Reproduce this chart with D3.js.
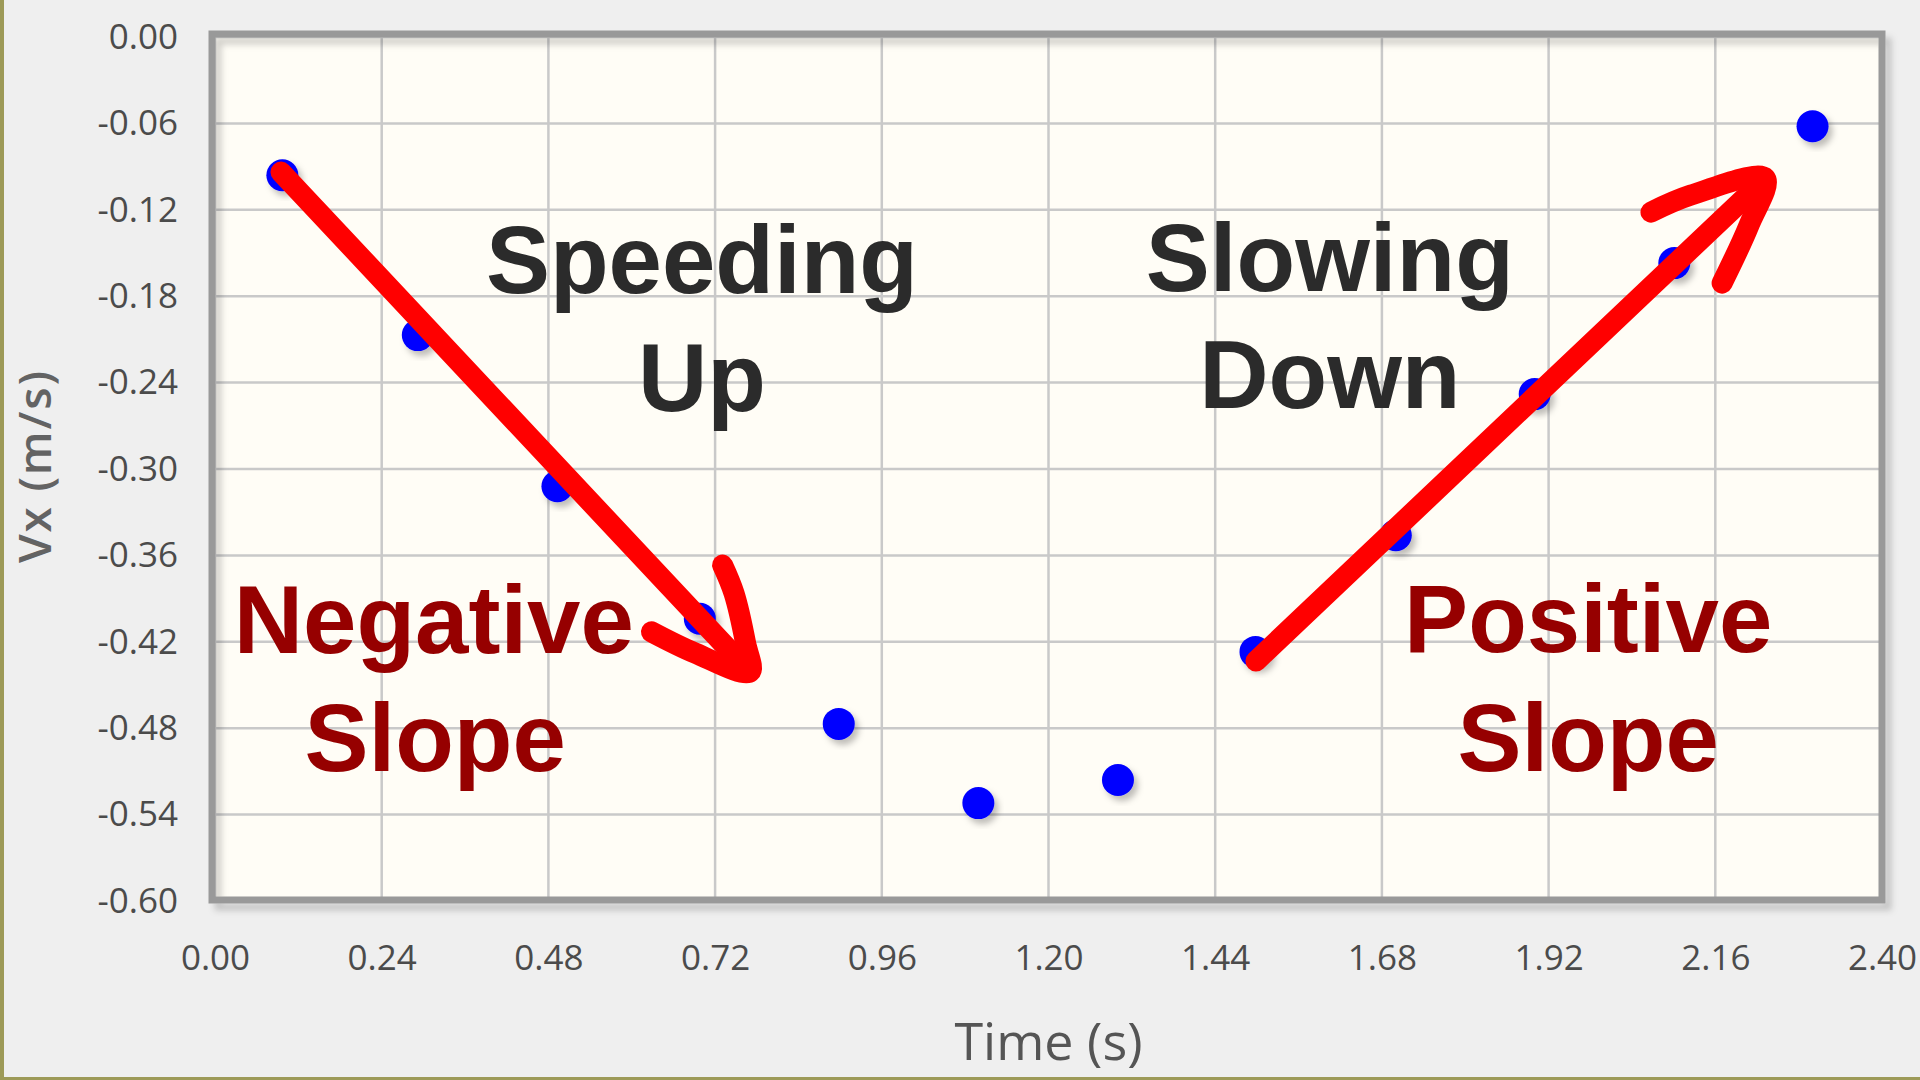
<!DOCTYPE html>
<html>
<head>
<meta charset="utf-8">
<script src="https://cdn.jsdelivr.net/npm/d3@7"></script>
<style>
  html, body { margin: 0; padding: 0; background: #efefef; }
  svg { display: block; }
</style>
</head>
<body>
<svg id="chart" width="1920" height="1080"></svg>
<script>
// velocity vs time, with hand-drawn slope annotations on top
const timeS = [0.097, 0.292, 0.493, 0.698, 0.898, 1.099, 1.300, 1.498, 1.700, 1.900, 2.101, 2.300];
const vxMs  = [-0.096, -0.207, -0.312, -0.404, -0.477, -0.532, -0.516, -0.427, -0.346, -0.248, -0.157, -0.062];

const xTicks = [0, 0.24, 0.48, 0.72, 0.96, 1.20, 1.44, 1.68, 1.92, 2.16, 2.40];
const yTicks = [0, -0.06, -0.12, -0.18, -0.24, -0.30, -0.36, -0.42, -0.48, -0.54, -0.60];

// arrow strokes in data units [t, vx]
const arrowDown = [[0.095, -0.0938], [0.7674, -0.4397]];
const arrowDownHead = [[0.7308, -0.3667], [0.7472, -0.3862], [0.7639, -0.4209], [0.7703, -0.4410],
                       [0.6911, -0.4278], [0.6284, -0.4131]];
const arrowUp = [[1.4987, -0.4334], [2.2172, -0.1049]];
const arrowUpHead = [[2.0674, -0.1216], [2.1250, -0.1098], [2.2318, -0.0980],
                     [2.2086, -0.1306], [2.1698, -0.1709]];

// annotation text: label lines, anchor [t, vx] of baseline centre
const blackNotes = [["Speeding", 0.701, -0.1778], ["Up", 0.701, -0.2598],
                    ["Slowing", 1.605, -0.1765], ["Down", 1.605, -0.2577]];
const redNotes = [["Negative", 0.315, -0.4278], ["Slope", 0.317, -0.5098],
                  ["Positive", 1.977, -0.4271], ["Slope", 1.977, -0.5098]];

const svg = d3.select('#chart');
const L = 215, R = 1882, T = 37, B = 901;
const x = d3.scaleLinear().domain([0, 2.4]).range([L, R]);
const y = d3.scaleLinear().domain([-0.6, 0]).range([B, T]);

const defs = svg.append('defs');
const sh = defs.append('filter').attr('id', 'shadow').attr('x', '-20%').attr('y', '-20%').attr('width', '150%').attr('height', '150%');
sh.append('feDropShadow').attr('dx', 4).attr('dy', 5).attr('stdDeviation', 3).attr('flood-color', '#000').attr('flood-opacity', 0.25);
const fs = defs.append('filter').attr('id', 'frameShadow').attr('x', '-5%').attr('y', '-5%').attr('width', '110%').attr('height', '110%');
fs.append('feDropShadow').attr('dx', 6).attr('dy', 7).attr('stdDeviation', 3).attr('flood-color', '#000').attr('flood-opacity', 0.18);

// page edges
svg.append('rect').attr('x', 0).attr('y', 0).attr('width', 4).attr('height', 1080).attr('fill', '#9d9a58');
svg.append('rect').attr('x', 0).attr('y', 1077).attr('width', 1920).attr('height', 3).attr('fill', '#9d9a58');

// plot background
svg.append('rect').attr('x', L).attr('y', T).attr('width', R - L).attr('height', B - T)
  .attr('fill', '#fffdf6');

// gridlines
const grid = svg.append('g').attr('stroke', '#c9c9c9').attr('stroke-width', 2.5);
grid.selectAll('.gx').data(xTicks).join('line')
  .attr('x1', d => x(d)).attr('x2', d => x(d)).attr('y1', T).attr('y2', B);
grid.selectAll('.gy').data(yTicks).join('line')
  .attr('x1', L).attr('x2', R).attr('y1', d => y(d)).attr('y2', d => y(d));

// frame
svg.append('rect').attr('x', L - 3).attr('y', T - 3).attr('width', R - L + 3).attr('height', B - T + 2)
  .attr('fill', 'none').attr('stroke', '#999').attr('stroke-width', 7).attr('filter', 'url(#frameShadow)');

// axes
const xAxis = svg.append('g').attr('transform', `translate(0,${B})`)
  .call(d3.axisBottom(x).tickValues(xTicks).tickFormat(d3.format('.2f')).tickSize(21).tickPadding(23));
const yAxis = svg.append('g').attr('transform', `translate(${L - 2},0)`)
  .call(d3.axisLeft(y).tickValues(yTicks).tickFormat(d3.format('.2f')).tickSize(19).tickPadding(16));
[xAxis, yAxis].forEach(g => {
  g.select('.domain').remove();
  g.selectAll('.tick line').attr('stroke', '#999').attr('stroke-width', 3.5).attr('filter', 'url(#shadow)');
  g.selectAll('.tick text').attr('fill', '#4b4b4b').attr('font-family', '"Open Sans", sans-serif').attr('font-size', 35);
});
yAxis.selectAll('.tick text').text(d => d === 0 ? '0.00' : d3.format('.2f')(d).replace('−', '-'));

// axis titles
svg.append('text').attr('x', (L + R) / 2).attr('y', 1060).attr('text-anchor', 'middle')
  .attr('font-family', '"Open Sans", sans-serif').attr('font-size', 52).attr('fill', '#555')
  .text('Time (s)');
svg.append('text').attr('transform', `translate(51,${(T + B) / 2 - 2}) rotate(-90)`).attr('text-anchor', 'middle')
  .attr('font-family', '"Open Sans", sans-serif').attr('font-size', 46).attr('font-weight', 600).attr('fill', '#636363')
  .attr('textLength', 192).attr('lengthAdjust', 'spacing')
  .text('Vx (m/s)');

// data points
svg.append('g').selectAll('circle').data(timeS).join('circle')
  .attr('cx', d => x(d)).attr('cy', (d, i) => y(vxMs[i])).attr('r', 16)
  .attr('fill', '#0000ff').attr('filter', 'url(#shadow)');

// annotation text
const txt = svg.append('g').attr('font-family', '"Liberation Sans", Arial, sans-serif')
  .attr('font-weight', 'bold').attr('font-size', 96).attr('text-anchor', 'middle');
txt.selectAll('.b').data(blackNotes).join('text')
  .attr('x', d => x(d[1])).attr('y', d => y(d[2])).attr('fill', '#2b2b2b').text(d => d[0]);
txt.selectAll('.r').data(redNotes).join('text')
  .attr('x', d => x(d[1])).attr('y', d => y(d[2])).attr('fill', '#960000').text(d => d[0]);

// red arrows
const line = d3.line().x(d => x(d[0])).y(d => y(d[1])).curve(d3.curveCatmullRom);
const arrows = svg.append('g').attr('fill', 'none').attr('stroke', '#ff0000').attr('stroke-width', 21)
  .attr('stroke-linecap', 'round').attr('stroke-linejoin', 'round');
[arrowDown, arrowDownHead, arrowUp, arrowUpHead].forEach(p => arrows.append('path').attr('d', line(p)));
</script>
</body>
</html>
